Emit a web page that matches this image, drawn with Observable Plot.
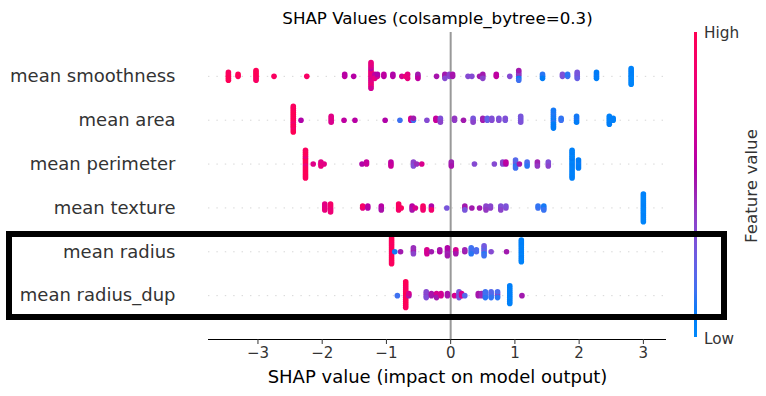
<!DOCTYPE html>
<html><head><meta charset="utf-8">
<script src="https://cdn.jsdelivr.net/npm/d3@7"></script>
<script src="https://cdn.jsdelivr.net/npm/@observablehq/plot@0.6"></script>
<style>
html,body{margin:0;padding:0;background:#fff;}
#wrap{position:relative;width:766px;height:396px;font-family:"DejaVu Sans",sans-serif;overflow:hidden;}
#wrap svg{display:block;}
</style></head><body><div id="wrap"></div>
<script>
// features listed bottom -> top
const features = ["mean radius_dup","mean radius","mean texture","mean perimeter","mean area","mean smoothness"];
const xTicks = [-3,-2,-1,0,1,2,3];
const titleText = "SHAP Values (colsample_bytree=0.3)";
const xLabel = "SHAP value (impact on model output)";
const colorLabels = ["High","Low"];
const colorTitle = "Feature value";

// [shap value, normalized feature value]
const meanSmoothness = [
[-3.46,1],[-3.46,0.97],[-3.46,0.99],[-3.46,0.95],[-3.46,0.98],
[-3.31,0.96],[-3.31,0.98],
[-3.03,1],[-3.03,0.97],[-3.03,0.95],[-3.03,0.99],[-3.03,0.93],[-3.03,0.98],
[-2.75,0.94],[-2.24,0.92],
[-1.65,0.6],[-1.65,0.58],[-1.51,0.57],
[-1.24,0.78],[-1.24,0.82],[-1.24,0.74],[-1.24,0.8],[-1.24,0.7],[-1.24,0.85],[-1.24,0.76],
[-1.24,0.6],[-1.24,0.79],[-1.24,0.72],[-1.24,0.83],[-1.24,0.77],[-1.24,0.68],[-1.24,0.8],
[-1.18,0.75],[-1.18,0.62],[-1.18,0.8],
[-1.14,0.7],[-1.14,0.55],
[-1.04,0.58],[-1.04,0.6],
[-0.90,0.57],[-0.90,0.55],
[-0.76,0.7],[-0.70,0.85],[-0.67,0.78],[-0.67,0.8],
[-0.51,0.55],[-0.51,0.5],[-0.51,0.6],
[-0.22,0.52],
[-0.09,0.75],[-0.09,0.5],[-0.09,0.35],
[-0.02,0.35],[-0.02,0.38],
[0.03,0.5],[0.03,0.52],
[0.27,0.35],[0.33,0.35],
[0.45,0.5],[0.5,0.42],[0.5,0.5],[0.5,0.38],
[0.71,0.62],[0.71,0.6],
[0.92,0.35],
[1.06,0.2],[1.06,0.45],[1.06,0.1],[1.06,0.4],[1.06,0.15],[1.06,0.5],
[1.43,0.1],[1.43,0.12],[1.43,0.08],
[1.74,0.3],[1.74,0.32],[1.82,0.15],[1.82,0.12],
[1.97,0.28],[1.97,0.3],[1.97,0.25],[1.97,0.3],
[2.27,0.08],[2.27,0.1],[2.27,0.06],[2.27,0.08],
[2.81,0.03],[2.81,0.05],[2.81,0.02],[2.81,0.04],[2.81,0.03],[2.81,0.06],[2.81,0.02],[2.81,0.04],[2.81,0.03]
];

const meanArea = [
[-2.45,0.98],[-2.45,1],[-2.45,0.95],[-2.45,0.97],[-2.45,0.85],[-2.45,0.99],[-2.45,0.96],
[-2.45,1],[-2.45,0.94],[-2.45,0.98],[-2.45,0.88],[-2.45,0.97],[-2.45,0.99],[-2.45,0.95],
[-2.33,0.55],
[-1.86,0.75],[-1.86,0.78],[-1.86,0.72],[-1.86,0.76],
[-1.66,0.6],[-1.49,0.58],[-1.02,0.55],[-0.79,0.15],
[-0.62,0.62],[-0.62,0.7],[-0.58,0.15],[-0.58,0.5],
[-0.37,0.35],
[-0.23,0.65],[-0.23,0.62],
[-0.16,0.35],[-0.16,0.33],[-0.16,0.38],
[0.06,0.4],[0.06,0.42],
[0.2,0.5],
[0.35,0.35],[0.35,0.3],[0.35,0.38],
[0.5,0.5],[0.5,0.48],[0.57,0.25],[0.57,0.22],[0.64,0.35],[0.64,0.33],
[0.75,0.35],[0.75,0.32],[0.85,0.3],[0.85,0.33],
[1.09,0.3],[1.09,0.28],[1.09,0.32],[1.09,0.3],
[1.6,0.1],[1.6,0.08],[1.6,0.12],[1.6,0.1],[1.6,0.06],[1.6,0.1],[1.6,0.09],[1.6,0.11],[1.6,0.08],[1.6,0.1],
[1.72,0.15],[1.72,0.13],
[1.96,0.1],[1.96,0.12],[1.96,0.08],[1.96,0.1],
[2.47,0.05],[2.47,0.06],[2.47,0.04],[2.47,0.05],[2.47,0.07],[2.53,0.05],[2.53,0.06]
];

const meanPerimeter = [
[-2.26,0.98],[-2.26,1],[-2.26,0.8],[-2.26,0.97],[-2.26,0.95],[-2.26,0.99],[-2.26,0.96],[-2.26,0.82],
[-2.26,1],[-2.26,0.94],[-2.26,0.98],[-2.26,0.97],[-2.26,0.99],[-2.26,0.95],[-2.26,0.96],
[-2.14,0.75],
[-2.02,0.78],[-2.02,0.76],[-2.02,0.8],[-1.97,0.77],
[-1.38,0.55],[-1.31,0.65],[-1.31,0.63],
[-0.93,0.62],[-0.93,0.6],[-0.93,0.65],
[-0.58,0.35],[-0.58,0.38],[-0.58,0.33],[-0.53,0.45],
[-0.45,0.72],
[0.01,0.5],[0.01,0.48],[0.01,0.52],
[0.37,0.35],[0.68,0.35],
[0.81,0.35],[0.81,0.38],[0.86,0.55],[0.86,0.6],
[1.01,0.15],[1.01,0.3],[1.01,0.12],[1.01,0.2],[1.01,0.15],
[1.07,0.5],
[1.19,0.15],[1.19,0.18],[1.19,0.12],
[1.35,0.45],[1.35,0.48],[1.35,0.42],
[1.52,0.35],[1.52,0.33],[1.52,0.38],
[1.89,0.05],[1.89,0.04],[1.89,0.06],[1.89,0.03],[1.89,0.05],[1.89,0.08],[1.89,0.04],[1.89,0.05],
[1.89,0.06],[1.89,0.03],[1.89,0.05],[1.89,0.07],[1.89,0.04],[1.89,0.05],[1.89,0.06],
[1.99,0.08],[1.99,0.1],[1.99,0.07],[1.99,0.08],[1.99,0.09]
];

const meanTexture = [
[-1.96,0.78],[-1.96,0.76],[-1.96,0.8],[-1.96,0.77],
[-1.87,0.85],[-1.87,0.88],[-1.87,0.82],[-1.87,0.9],[-1.87,0.84],
[-1.37,0.8],[-1.37,0.9],
[-1.29,0.55],[-1.29,0.57],
[-1.08,0.55],[-1.08,0.58],[-1.08,0.53],
[-0.81,0.92],[-0.81,0.95],[-0.81,0.9],[-0.81,0.93],[-0.77,0.94],
[-0.6,0.55],[-0.6,0.58],[-0.6,0.52],
[-0.55,0.72],
[-0.43,0.9],[-0.43,0.93],[-0.43,0.88],
[-0.3,0.85],[-0.3,0.55],[-0.3,0.88],
[-0.06,0.3],
[0.22,0.7],[0.22,0.5],[0.22,0.3],
[0.33,0.5],[0.45,0.5],
[0.55,0.4],[0.55,0.38],[0.55,0.42],[0.62,0.4],[0.62,0.37],
[0.78,0.35],[0.78,0.33],[0.78,0.38],[0.86,0.35],[0.86,0.32],
[1.36,0.15],[1.36,0.13],[1.45,0.12],[1.45,0.1],[1.45,0.14],
[3.0,0.03],[3.0,0.04],[3.0,0.02],[3.0,0.05],[3.0,0.03],[3.0,0.04],[3.0,0.02],[3.0,0.03],
[3.0,0.05],[3.0,0.03],[3.0,0.04],[3.0,0.02],[3.0,0.03],[3.0,0.04],[3.0,0.03]
];

const meanRadius = [
[-0.92,0.95],[-0.92,0.97],[-0.92,0.93],[-0.92,1],[-0.92,0.96],[-0.92,0.94],[-0.92,0.98],
[-0.92,0.95],[-0.92,0.99],[-0.92,0.93],[-0.92,0.97],[-0.92,0.96],[-0.92,0.95],[-0.92,0.98],
[-0.87,0.1],[-0.78,0.5],
[-0.58,0.4],[-0.58,0.5],[-0.58,0.38],[-0.58,0.45],
[-0.37,0.7],[-0.37,0.72],[-0.37,0.68],
[-0.3,0.5],
[-0.17,0.55],[-0.17,0.52],
[-0.05,0.5],[-0.05,0.52],[-0.05,0.48],[-0.05,0.55],[-0.05,0.5],
[0.08,0.55],[0.08,0.7],[0.08,0.52],
[0.22,0.5],[0.22,0.48],
[0.32,0.15],[0.32,0.18],[0.32,0.12],[0.32,0.15],
[0.4,0.2],[0.4,0.18],
[0.52,0.15],[0.52,0.3],[0.52,0.12],[0.52,0.2],[0.52,0.15],[0.52,0.28],
[0.63,0.35],[0.87,0.5],
[1.1,0.05],[1.1,0.04],[1.1,0.06],[1.1,0.05],[1.1,0.03],[1.1,0.05],[1.1,0.07],[1.1,0.04],[1.1,0.05],[1.1,0.06],[1.1,0.04],[1.1,0.05]
];

const meanRadiusDup = [
[-0.83,0.15],
[-0.7,0.95],[-0.7,0.97],[-0.7,0.93],[-0.7,1],[-0.7,0.96],[-0.7,0.94],[-0.7,0.98],
[-0.7,0.95],[-0.7,0.99],[-0.7,0.93],[-0.7,0.97],[-0.7,0.96],[-0.7,0.95],[-0.7,0.98],
[-0.65,0.5],[-0.65,0.7],
[-0.38,0.35],[-0.38,0.38],[-0.38,0.33],[-0.38,0.36],
[-0.3,0.5],[-0.3,0.52],
[-0.22,0.55],[-0.22,0.7],[-0.22,0.5],
[-0.15,0.7],[-0.15,0.68],
[-0.05,0.5],[-0.05,0.52],
[0.06,0.7],
[0.13,0.3],[0.13,0.32],[0.13,0.28],[0.13,0.3],
[0.17,0.72],[0.17,0.7],
[0.22,0.2],
[0.43,0.5],[0.43,0.52],[0.48,0.45],[0.48,0.47],
[0.54,0.15],[0.54,0.18],[0.54,0.12],[0.54,0.15],
[0.63,0.15],[0.63,0.17],[0.63,0.13],[0.63,0.2],
[0.73,0.15],[0.73,0.4],[0.73,0.12],[0.73,0.18],
[0.92,0.05],[0.92,0.04],[0.92,0.06],[0.92,0.05],[0.92,0.03],[0.92,0.05],[0.92,0.07],[0.92,0.04],[0.92,0.05],[0.92,0.06],
[1.11,0.5]
];

const series = [meanRadiusDup, meanRadius, meanTexture, meanPerimeter, meanArea, meanSmoothness];

// SHAP-style beeswarm offsets (quantize into bins, alternate layers)
function beeswarm(pts) {
  const shaps = pts.map(p => p[0]);
  const mn = d3.min(shaps), mx = d3.max(shaps);
  const nbins = 100;
  const quant = shaps.map(s => Math.round(nbins * (s - mn) / (mx - mn + 1e-8)));
  const inds = d3.range(pts.length).sort((a, b) => quant[a] - quant[b] || a - b);
  const ys = new Array(pts.length).fill(0);
  let layer = 0, last = -1;
  for (const i of inds) {
    if (quant[i] !== last) layer = 0;
    ys[i] = Math.ceil(layer / 2) * ((layer % 2) * 2 - 1);
    layer++; last = quant[i];
  }
  const m = d3.max(ys, y => y + 1);
  return ys.map(y => y * 0.9 * (0.4 / m));
}

const data = [];
series.forEach((pts, row) => {
  const off = beeswarm(pts);
  pts.forEach((p, i) => data.push({s: p[0], v: p[1], y: row + off[i]}));
});

// SHAP red_blue colormap (LCH interpolation)
function redBlue(t) {
  const blue = [54, 70, 4.6588], red = [54, 90, 0.35470565 + 2 * Math.PI], lmid = 40;
  const l = t < 0.5 ? blue[0] + (lmid - blue[0]) * (t / 0.5) : lmid + (red[0] - lmid) * ((t - 0.5) / 0.5);
  const c = blue[1] + (red[1] - blue[1]) * t;
  const h = blue[2] + (red[2] - blue[2]) * t;
  return d3.hcl(h * 180 / Math.PI, c, l).formatHex();
}

const fmt = d => d < 0 ? "\u2212" + (-d) : String(d);

const chart = Plot.plot({
  width: 766, height: 396,
  marginLeft: 208, marginRight: 100, marginTop: 32, marginBottom: 57,
  style: {fontFamily: "DejaVu Sans, sans-serif", background: "white", overflow: "visible"},
  x: {domain: [-3.77, 3.36]},
  y: {domain: [-1, 6]},
  color: {domain: [0, 1], interpolate: redBlue},
  marks: [
    Plot.ruleY(d3.range(features.length), {stroke: "#cccccc", strokeWidth: 0.8, strokeDasharray: "1.4,7"}),
    Plot.ruleX([0], {stroke: "#999999", strokeWidth: 2}),
    Plot.dot(data, {x: "s", y: "y", fill: "v", r: 2.8, stroke: null}),
    Plot.ruleY([-1], {stroke: "#000", strokeWidth: 1.1}),
    Plot.axisX({ticks: xTicks, tickFormat: fmt, tickSize: 5, tickPadding: 3, fontSize: 15, color: "#333333", label: null}),
    Plot.axisY({ticks: d3.range(features.length), tickFormat: i => features[i], tickSize: 0, tickPadding: 33, fontSize: 18, color: "#333333", label: null}),
    Plot.text([xLabel], {frameAnchor: "bottom", lineAnchor: "middle", dy: 38, fontSize: 18, fill: "#000"}),
    Plot.text([titleText], {frameAnchor: "top", lineAnchor: "middle", dy: -14, fontSize: 16.7, fill: "#000"})
  ]
});
const wrap = document.getElementById("wrap");
wrap.appendChild(chart);

// colour bar
const bar = document.createElement("div");
bar.style.cssText = `position:absolute;left:694px;top:32px;width:3px;height:305px;background:linear-gradient(to bottom, ${d3.range(0,1.0001,0.05).map(t => redBlue(1 - t) + " " + (t*100).toFixed(1) + "%").join(",")});`;
wrap.appendChild(bar);
function label(txt, css) { const d = document.createElement("div"); d.textContent = txt; d.style.cssText = "position:absolute;white-space:nowrap;color:#333;" + css; wrap.appendChild(d); return d; }
label(colorLabels[0], "left:704px;top:23px;font-size:15.3px;line-height:20px;");
label(colorLabels[1], "left:704px;top:329px;font-size:15.3px;line-height:20px;");
label(colorTitle, "left:751px;top:186px;font-size:16.7px;line-height:20px;transform:translate(-50%,-50%) rotate(-90deg);");

// highlight box
const box = document.createElement("div");
box.style.cssText = "position:absolute;left:6px;top:231px;width:721px;height:89px;box-sizing:border-box;border:6px solid #000;";
wrap.appendChild(box);
</script></body></html>
